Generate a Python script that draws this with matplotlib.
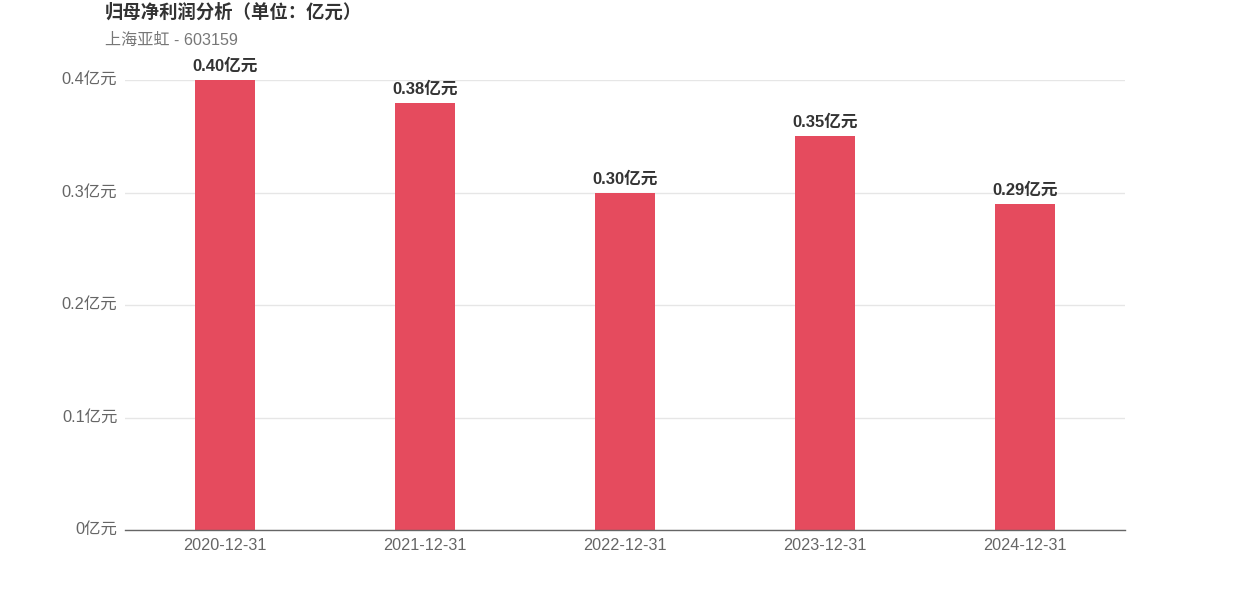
import matplotlib
matplotlib.use("Agg")
import matplotlib.pyplot as plt
from matplotlib.transforms import ScaledTranslation

plt.rcParams['font.family'] = ['Liberation Sans', 'Noto Sans CJK SC', 'DejaVu Sans']

categories = ['2020-12-31', '2021-12-31', '2022-12-31', '2023-12-31', '2024-12-31']
values = [0.40, 0.38, 0.30, 0.35, 0.29]
yticks = [0, 0.1, 0.2, 0.3, 0.4]
ytick_labels = ['0亿元', '0.1亿元', '0.2亿元', '0.3亿元', '0.4亿元']
title = '归母净利润分析（单位：亿元）'
subtitle = '上海亚虹 - 603159'

fig = plt.figure(figsize=(12.5, 6), dpi=100)
ax = fig.add_axes([0.1, 1 - 530 / 600, 0.8, 450 / 600])

x = list(range(len(categories)))
ax.bar(x, values, width=0.3, color='#e54b5e', zorder=3)
for xi, v in zip(x, values):
    ax.text(xi, v + 0.0055, f'{v:.2f}亿元', ha='center', va='bottom',
            fontsize=12, fontweight='bold', color='#333333')

ax.set_xlim(-0.5, len(categories) - 0.5)
ax.set_ylim(0, 0.4)
ax.set_xticks(x)
ax.set_xticklabels(categories, fontsize=11.7, color='#666666')
ax.set_yticks(yticks)
ax.set_yticklabels(ytick_labels, fontsize=11.8, color='#666666')
ax.tick_params(axis='y', length=0, pad=5.5)
ax.tick_params(axis='x', length=0, pad=5.5)
shift = ScaledTranslation(0, 2 / 100, fig.dpi_scale_trans)
for lbl in ax.get_yticklabels():
    lbl.set_transform(lbl.get_transform() + shift)
ax.grid(axis='y', color='#e6e6e6', linewidth=1, zorder=0)
for s in ['top', 'right', 'left']:
    ax.spines[s].set_visible(False)
ax.spines['bottom'].set_color('#666666')
ax.spines['bottom'].set_linewidth(1)
ax.spines['bottom'].set_zorder(4)

fig.text(105 / 1250, 1 - 13 / 600, title, fontsize=13.2, fontweight='bold',
         color='#333333', va='center', ha='left')
fig.text(105 / 1250, 1 - 40 / 600, subtitle, fontsize=11.6, color='#777777',
         va='center', ha='left')

fig.savefig('out.png', dpi=100, facecolor='white')
